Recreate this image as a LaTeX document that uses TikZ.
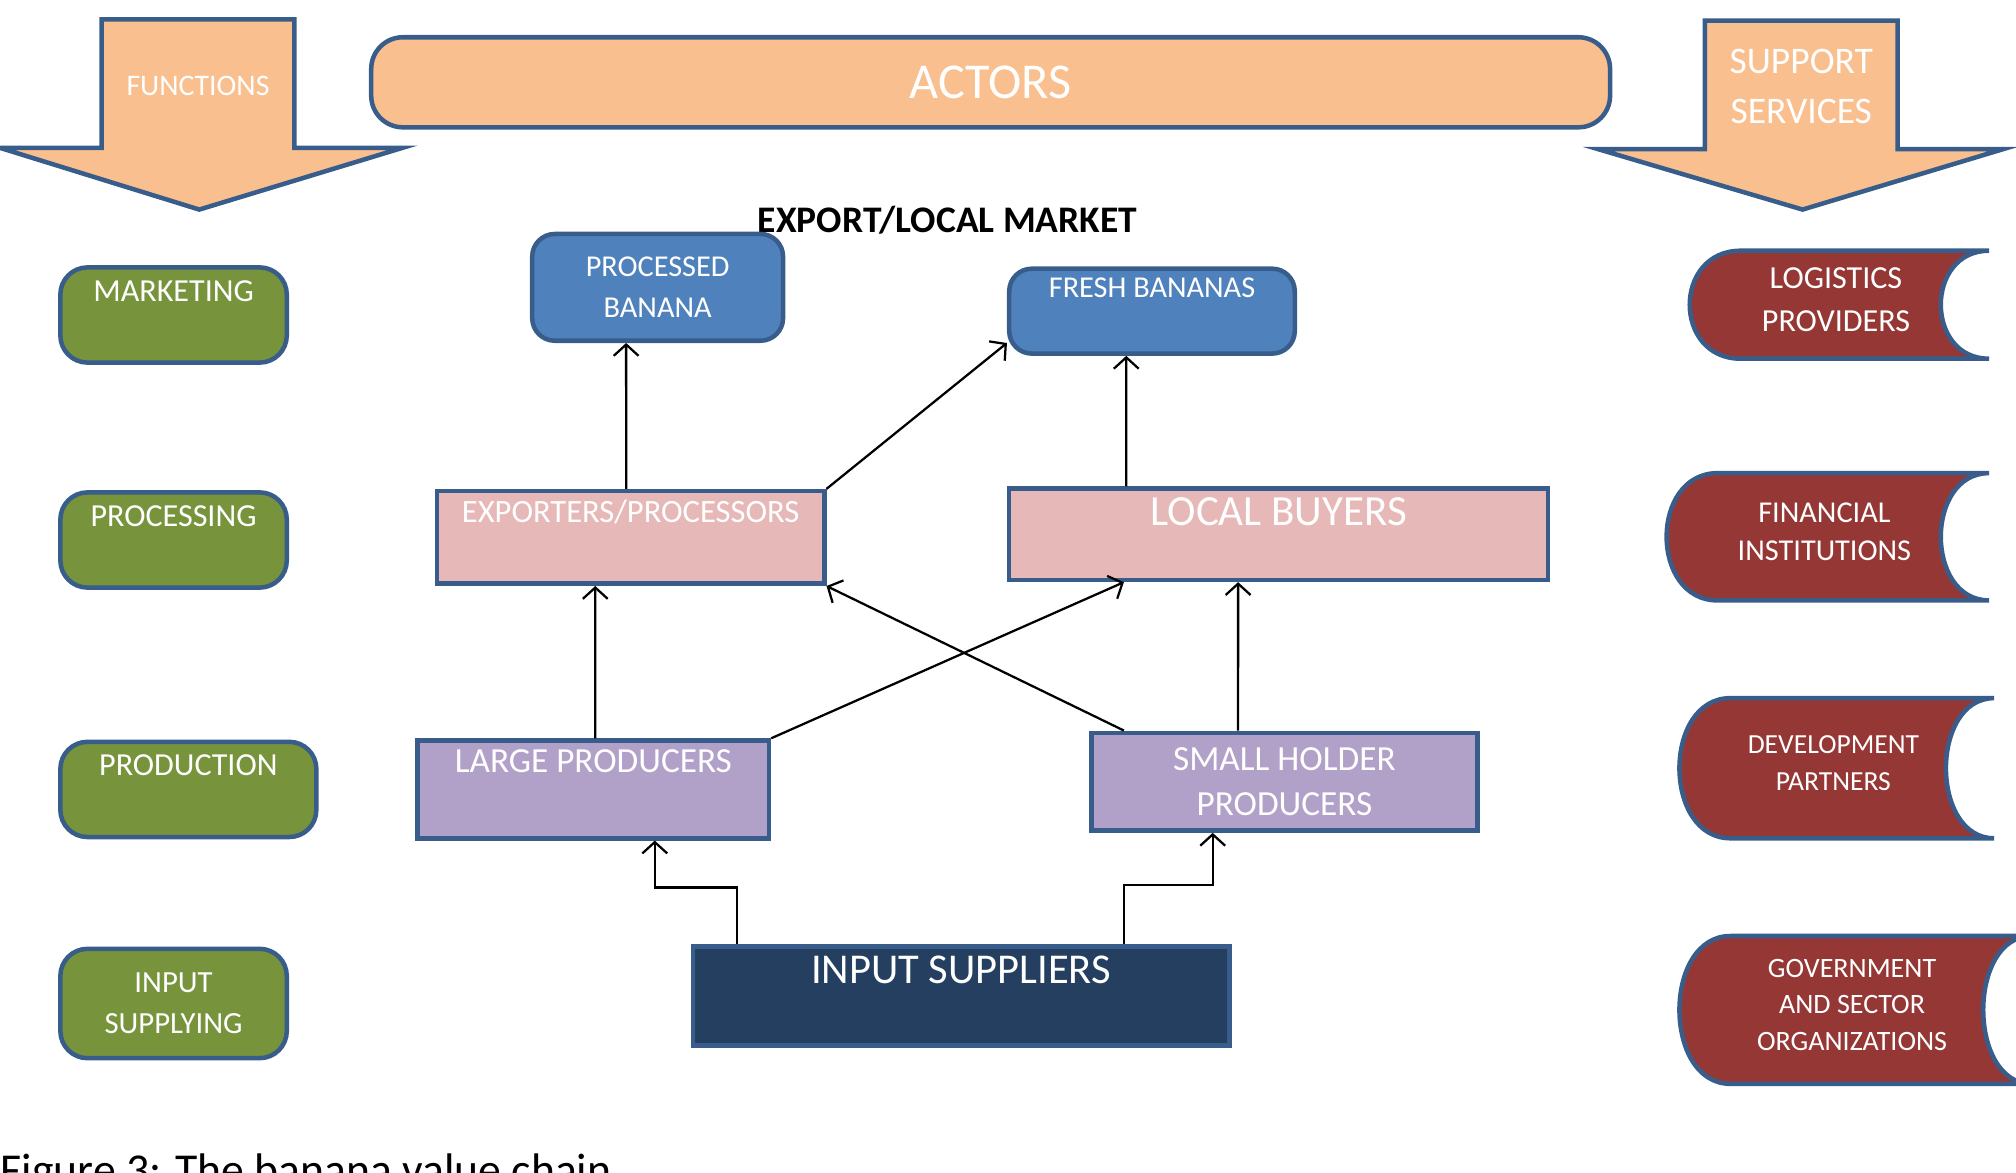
\documentclass[tikz,border=0pt]{standalone}
\usepackage{fontspec}
\usetikzlibrary{arrows.meta}
\setmainfont{Carlito}
\begin{document}
\begin{tikzpicture}[x=0.01cm,y=-0.01cm,
  bd/.style={draw=bdc, line width=1pt},
  green/.style={bd, fill=grn, rounded corners=6pt, text=white, font=\fontsize{7.1}{9}\selectfont, align=center},
  blue/.style={bd, fill=blu, rounded corners=5pt, text=white, font=\fontsize{6.7}{9}\selectfont, align=center},
  pink/.style={bd, fill=pnk, text=white, align=center},
  purp/.style={bd, fill=prp, text=white, align=center, font=\fontsize{7.8}{10}\selectfont},
  ar/.style={-{Straight Barb[length=2.5pt,width=5.5pt]}, line width=0.5pt}]
\definecolor{grn}{HTML}{77933C}
\definecolor{blu}{HTML}{4F81BD}
\definecolor{pnk}{HTML}{E6B8B7}
\definecolor{prp}{HTML}{B1A0C7}
\definecolor{navy}{HTML}{243F60}
\definecolor{red}{HTML}{953735}
\definecolor{pch}{HTML}{F9BF8F}
\definecolor{bdc}{HTML}{385D8A}
\useasboundingbox (0,0) rectangle (1568,912);
\newcommand\bx[7]{\node[#6, inner sep=0pt, minimum width={(#4-#2)*0.1mm}, minimum height={(#5-#3)*0.1mm}] (#1) at ({(#2+#4)/2},{(#3+#5)/2}) {#7};}
\newcommand\up[2]{\raisebox{#1}[0pt][0pt]{#2}}
% big arrows
\draw[bd, fill=pch] (79,15) -- (229,15) -- (229,115) -- (313,115) -- (155,163) -- (0,115) -- (79,115) -- cycle;
\node[text=white, font=\fontsize{6.6}{8}\selectfont] (fn) at (154,67) {FUNCTIONS};
\draw[bd, fill=pch] (1326,16) -- (1476,16) -- (1476,116) -- (1558,116) -- (1402,163) -- (1243,116) -- (1326,116) -- cycle;
\node[text=white, align=center, font=\fontsize{8.3}{11}\selectfont] (ss) at (1401,67) {SUPPORT\\SERVICES};
\bx{act}{289}{29}{1252}{99}{bd, fill=pch, rounded corners=7pt, text=white, font=\fontsize{11.1}{12}\selectfont}{ACTORS}
% functions
\bx{mk}{47}{208}{223}{282}{green}{\up{3pt}{MARKETING}}
\bx{pr}{47}{383}{223}{457}{green}{\up{3pt}{PROCESSING}}
\bx{pd}{47}{577}{246}{651}{green}{\up{3pt}{PRODUCTION}}
\bx{is}{47}{738}{223}{823}{green, font=\fontsize{6.8}{9}\selectfont}{INPUT\\SUPPLYING}
% actors
\node[font=\bfseries\fontsize{8.3}{9}\selectfont] (em) at (737,171) {EXPORT/LOCAL MARKET};
\bx{pb}{414}{182}{609}{265}{blue}{PROCESSED\\BANANA}
\bx{fb}{785}{209}{1007}{275}{blue}{\up{3pt}{FRESH BANANAS}}
\bx{ex}{340}{382}{641}{454}{pink, font=\fontsize{7.2}{8}\selectfont}{\up{3.4pt}{EXPORTERS/PROCESSORS}}
\bx{lb}{785}{380}{1204}{451}{pink, font=\fontsize{9.5}{10}\selectfont}{\up{2pt}{LOCAL BUYERS}}
\bx{lp}{325}{576}{598}{652}{purp}{\up{3.7pt}{LARGE PRODUCERS}}
\bx{sh}{849}{570}{1149}{646}{purp}{SMALL HOLDER\\PRODUCERS}
\bx{in}{539}{736}{956}{813}{bd, fill=navy, text=white, font=\fontsize{9.4}{10}\selectfont}{\up{2.8pt}{INPUT SUPPLIERS}}
% arrows
\draw[ar] ([xshift=-0.35mm]ex.north) -- ([xshift=-2.45mm]pb.south);
\draw[ar] (ex.north east) -- ([yshift=1mm]fb.south west);
\draw[ar] ([xshift=-11.85mm]lb.north) -- ([xshift=-2mm]fb.south);
\draw[ar] ([xshift=0.15mm]lp.north) -- ([xshift=-2.75mm]ex.south);
\draw[ar] (lp.north east) -- ([xshift=9.1mm]lb.south west);
\draw[ar] ([xshift=2.7mm]sh.north west) -- (ex.south east);
\draw[ar] ([xshift=-3.6mm]sh.north) -- ([xshift=-3.15mm]lb.south);
\draw[ar] ([xshift=3.6mm]in.north west) -- ++(0,-44) -| ([xshift=18.6mm]lp.south west);
\draw[ar] ([xshift=33.7mm]in.north west) -- ++(0,-46) -| ([xshift=9.6mm]sh.south west);
% support services
\newcommand\rs[8]{%
 \draw[bd, fill=red] ({#2+45},#3) -- (#4,#3) .. controls ({#4-50},#3) and ({#4-50},#5) .. (#4,#5) -- ({#2+45},#5) .. controls ({#2-8},#5) and ({#2-8},#3) .. ({#2+45},#3) -- cycle;
 \node[text=white, align=center, font=\fontsize{#7}{#8}\selectfont] (#1) at ({(#2+#4)/2},{(#3+#5)/2-4}) {#6};}
\rs{lg}{1309}{195}{1547}{279}{LOGISTICS\\PROVIDERS}{7.1}{9.4}
\rs{fi}{1291}{368}{1547}{467}{FINANCIAL\\INSTITUTIONS}{6.7}{8.5}
\rs{dp}{1301}{543}{1551}{652}{DEVELOPMENT\\PARTNERS}{6.1}{8.2}
\rs{go}{1301}{728}{1580}{843}{GOVERNMENT\\AND SECTOR\\ORGANIZATIONS}{6.2}{8.1}
\node[anchor=base west, font=\fontsize{10.1}{11}\selectfont, inner sep=0pt] (cap) at (0,922) {Figure 3: The banana value chain};
\end{tikzpicture}
\end{document}
